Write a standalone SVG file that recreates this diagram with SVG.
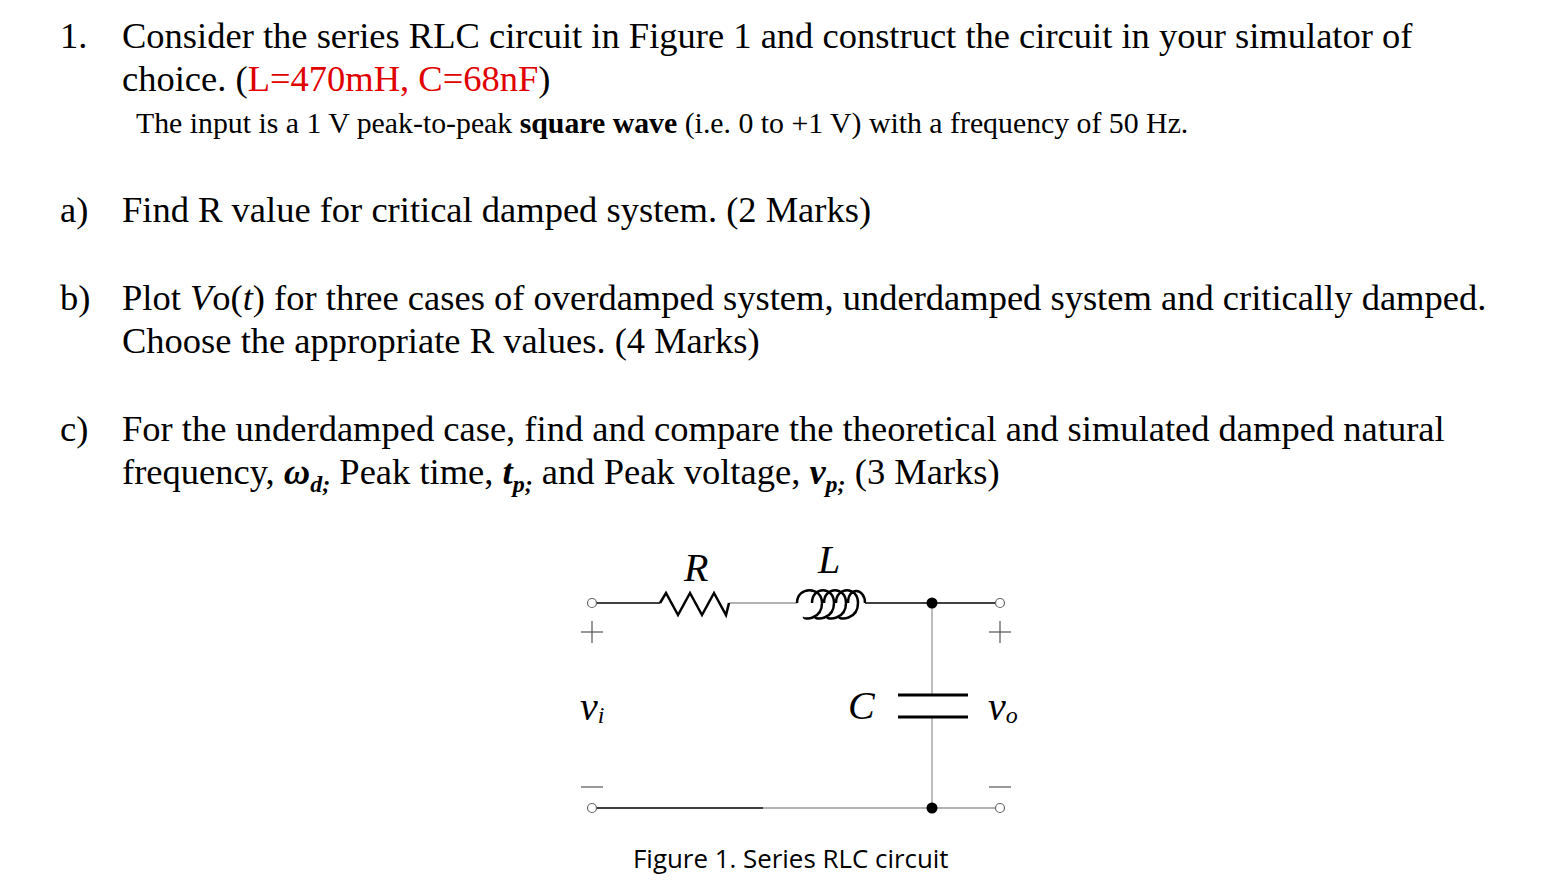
<svg xmlns="http://www.w3.org/2000/svg" width="1564" height="882" viewBox="0 0 1564 882">
<style>
.t{font-family:"Liberation Serif",serif;font-size:36.5px;fill:#000}
.s{font-family:"Liberation Serif",serif;font-size:29.8px;fill:#000}
.w{stroke:#000;stroke-width:1.3;fill:none}
.g{stroke:#999;stroke-width:1.3;fill:none}
.c{stroke:#000;stroke-width:3;fill:none}
.lbl{font-family:"Liberation Serif",serif;font-style:italic;font-size:40px;fill:#000}
.term{fill:#fff;stroke:#666;stroke-width:1.2}
</style>
<rect width="1564" height="882" fill="#fff"/>
<g id="text">
<text class="t" x="60" y="48">1.</text>
<text class="t" x="122" y="48">Consider the series RLC circuit in Figure 1 and construct the circuit in your simulator of</text>
<text class="t" x="122" y="91">choice. (<tspan fill="#e00000">L=470mH, C=68nF</tspan>)</text>
<text class="s" x="136" y="133">The input is a 1 V peak-to-peak <tspan font-weight="bold">square wave</tspan> (i.e. 0 to +1 V) with a frequency of 50 Hz.</text>
<text class="t" x="60" y="222">a)</text>
<text class="t" x="122" y="222">Find R value for critical damped system. (2 Marks)</text>
<text class="t" x="60" y="310">b)</text>
<text class="t" x="122" y="310">Plot <tspan font-style="italic">V</tspan>o(<tspan font-style="italic">t</tspan>) for three cases of overdamped system, underdamped system and critically damped.</text>
<text class="t" x="122" y="353">Choose the appropriate R values. (4 Marks)</text>
<text class="t" x="60" y="441">c)</text>
<text class="t" x="122" y="441">For the underdamped case, find and compare the theoretical and simulated damped natural</text>
<text class="t" x="122" y="484">frequency, <tspan font-weight="bold" font-style="italic">ω</tspan><tspan font-weight="bold" font-style="italic" font-size="24" dy="8">d;</tspan><tspan dy="-8"> Peak time, </tspan><tspan font-weight="bold" font-style="italic">t</tspan><tspan font-weight="bold" font-style="italic" font-size="24" dy="8">p;</tspan><tspan dy="-8"> and Peak voltage, </tspan><tspan font-weight="bold" font-style="italic">v</tspan><tspan font-weight="bold" font-style="italic" font-size="24" dy="8">p;</tspan><tspan dy="-8"> (3 Marks)</tspan></text>
</g>
<g id="connectors">
<line class="w" x1="596" y1="603" x2="660" y2="603"/>
<line class="g" x1="729" y1="603" x2="797" y2="603"/>
<line class="w" x1="865" y1="603" x2="996" y2="603"/>
<line class="g" x1="932" y1="603" x2="932" y2="695"/>
<line class="g" x1="932" y1="717" x2="932" y2="808"/>
<line class="w" x1="596" y1="808" x2="763" y2="808"/>
<line class="g" x1="763" y1="808" x2="996" y2="808"/>
</g>
<g id="resistor">
<polyline points="660,603 666,593 678,615 690,593 702,615 714,593 726,615 729,603" fill="none" stroke="#000" stroke-width="2.5"/>
<text class="lbl" x="684" y="581">R</text>
</g>
<g id="inductor">
<path fill="none" stroke="#000" stroke-width="2.5" d="M797,603 C797,586 822,586 822,603 C822,620 803,620 804,617 M812,603 C812,586 834,586 834,603 C834,620 815,620 815,617 M824,603 C824,586 846,586 846,603 C846,620 827,620 827,617 M836,603 C836,586 858,586 858,603 C858,620 839,620 839,617 M848,603 C848,586 865,588 865,603"/>
<text class="lbl" x="818" y="573">L</text>
</g>
<g id="capacitor">
<line class="c" x1="898" y1="695" x2="968" y2="695"/>
<line class="c" x1="898" y1="717" x2="968" y2="717"/>
<text class="lbl" x="848" y="719">C</text>
</g>
<g id="nodes">
<circle cx="932" cy="603" r="5.5"/>
<circle cx="932" cy="808" r="5.5"/>
<circle class="term" cx="592" cy="603" r="4.5"/>
<circle class="term" cx="592" cy="808" r="4.5"/>
<circle class="term" cx="1000" cy="603" r="4.5"/>
<circle class="term" cx="1000" cy="808" r="4.5"/>
</g>
<g id="port-labels" stroke="#555" stroke-width="1.2">
<line x1="581" y1="632" x2="603" y2="632"/><line x1="592" y1="621" x2="592" y2="643"/>
<line x1="989" y1="632" x2="1011" y2="632"/><line x1="1000" y1="621" x2="1000" y2="643"/>
<line x1="581" y1="787" x2="603" y2="787"/>
<line x1="989" y1="787" x2="1011" y2="787"/>
</g>
<g id="port-text">
<text class="lbl" x="580" y="720">v<tspan font-size="24" dy="3">i</tspan></text>
<text class="lbl" x="988" y="720">v<tspan font-size="24" dy="3">o</tspan></text>
</g>
<text x="633" y="868" font-family="Open Sans, sans-serif" font-size="25.9" fill="#000">Figure 1. Series RLC circuit</text>
</svg>
